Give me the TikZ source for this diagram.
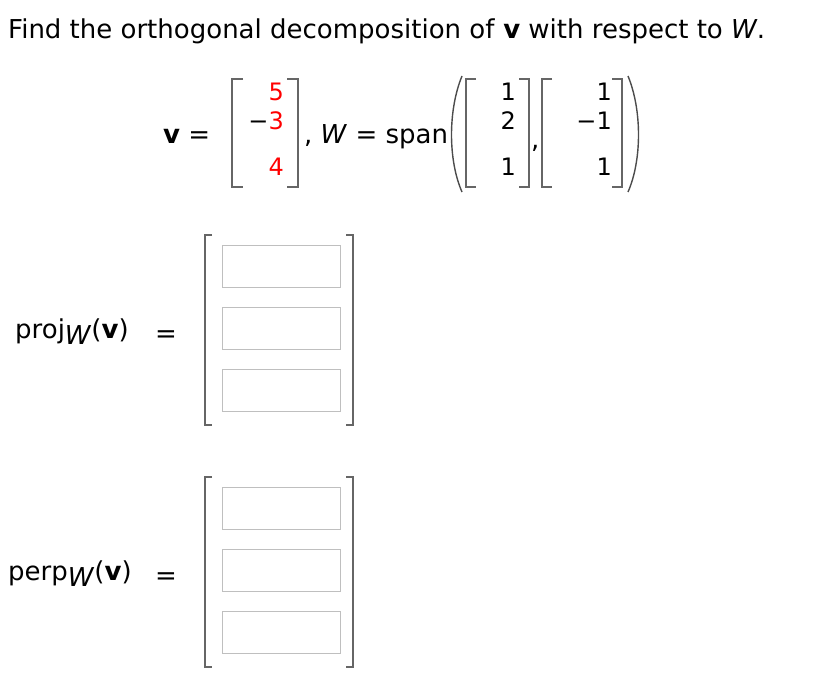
\documentclass[tikz,border=0pt]{standalone}
\usepackage{fontspec}
\setmainfont{DejaVu Sans}
\begin{document}
\begin{tikzpicture}[x=1pt,y=-1pt,
  t/.style={font=\fontsize{26}{30}\selectfont,inner sep=0pt,anchor=base west},
  n/.style={font=\fontsize{24}{28}\selectfont,inner sep=0pt,anchor=base east},
  br/.style={draw=gray!80!black,line width=1.3pt},
  box/.style={draw=gray!50,line width=0.8pt,fill=white}]
\useasboundingbox (0,0) rectangle (824,688);
\node[t] (title) at (8,38) {Find the orthogonal decomposition of \textbf{v} with respect to \textit{W}.};
\node[t] (veq) at (163,143) {\textbf{v} =};
% v matrix
\draw[br] (243,79) -- (232,79) -- (232,187) -- (243,187);
\draw[br] (287,79) -- (298,79) -- (298,187) -- (287,187);
\node[n,red] (v1) at (284,100) {5};
\node[n] (v2) at (284,129) {\textcolor{black}{−}\textcolor{red}{3}};
\node[n,red] (v3) at (284,175) {4};
\node[t] (weq) at (304,143) {, \textit{W} = span};
% span paren
\draw[line width=1.4pt,gray!60!black] (462,76) .. controls (448,110) and (448,160) .. (462,192);
\draw[line width=1.4pt,gray!60!black] (628,76) .. controls (642,110) and (642,160) .. (628,192);
\draw[br] (476,79) -- (466,79) -- (466,187) -- (476,187);
\draw[br] (519,79) -- (529,79) -- (529,187) -- (519,187);
\node[n] (a1) at (516,100) {1};
\node[n] (a2) at (516,129) {2};
\node[n] (a3) at (516,175) {1};
\node[t] (c2) at (531,148) {,};
\draw[br] (552,79) -- (542,79) -- (542,187) -- (552,187);
\draw[br] (612,79) -- (622,79) -- (622,187) -- (612,187);
\node[n] (b1) at (612,100) {1};
\node[n] (b2) at (612,129) {−1};
\node[n] (b3) at (612,175) {1};
% proj
\node[t] (proj) at (15,338) {proj\raisebox{-6pt}{\textit{W}}(\textbf{v})};
\node[t] (peq1) at (155,342) {=};
\draw[br] (212,235) -- (205,235) -- (205,425) -- (212,425);
\draw[br] (346,235) -- (353,235) -- (353,425) -- (346,425);
\foreach \y [count=\i] in {245,307,369} \draw[box] (222,\y) rectangle (340,\y+42);
% perp
\node[t] (perp) at (8,580) {perp\raisebox{-6pt}{\textit{W}}(\textbf{v})};
\node[t] (peq2) at (155,584) {=};
\draw[br] (212,477) -- (205,477) -- (205,667) -- (212,667);
\draw[br] (346,477) -- (353,477) -- (353,667) -- (346,667);
\foreach \y [count=\i] in {487,549,611} \draw[box] (222,\y) rectangle (340,\y+42);
\end{tikzpicture}
\end{document}
